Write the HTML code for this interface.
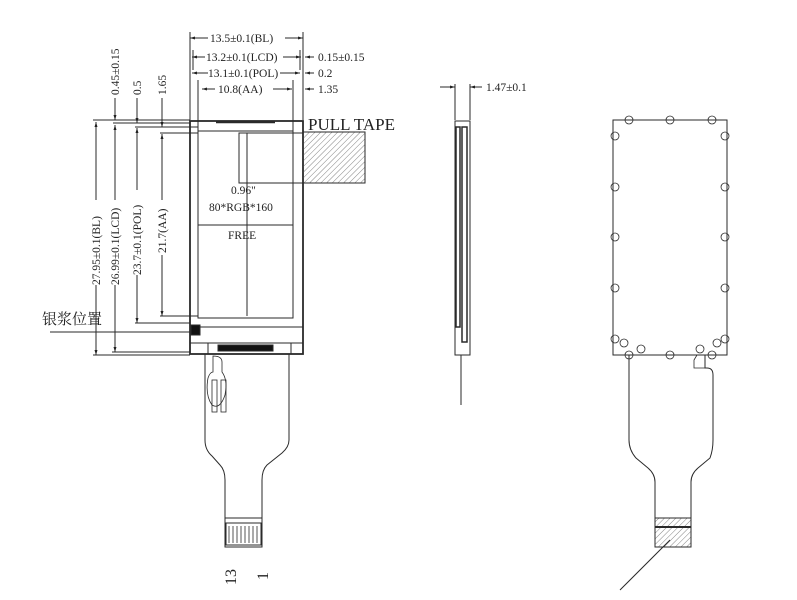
<!DOCTYPE html>
<html><head><meta charset="utf-8"><style>
body{margin:0;background:#fff}
svg{display:block}
text{font-family:"Liberation Serif","Noto Serif CJK SC",serif;fill:#222}
</style></head><body>
<svg width="797" height="600" viewBox="0 0 797 600" xmlns="http://www.w3.org/2000/svg">
<defs>
<pattern id="h" width="4" height="4" patternUnits="userSpaceOnUse" patternTransform="rotate(45)">
<line x1="0" y1="0" x2="0" y2="4" stroke="#666" stroke-width="0.8"/></pattern>
<marker id="a" viewBox="0 0 10 10" refX="10" refY="5" markerWidth="6" markerHeight="5" orient="auto-start-reverse"><path d="M0,2 L10,5 L0,8z" fill="#222"/></marker>
</defs>
<g stroke="#2a2a2a" stroke-width="1" fill="none">
<line x1="190" y1="32" x2="190" y2="120"/><line x1="303" y1="32" x2="303" y2="120"/>
<line x1="198" y1="80" x2="198" y2="131"/><line x1="293" y1="80" x2="293" y2="131"/>
<line x1="193" y1="50" x2="193" y2="70"/><line x1="300" y1="50" x2="300" y2="70"/>
<line x1="190" y1="38" x2="208" y2="38" marker-start="url(#a)"/><line x1="285" y1="38" x2="303" y2="38" marker-end="url(#a)"/>
<line x1="192" y1="57" x2="205" y2="57" marker-start="url(#a)"/><line x1="283" y1="57" x2="301" y2="57" marker-end="url(#a)"/>
<line x1="192" y1="73" x2="208" y2="73" marker-start="url(#a)"/><line x1="280" y1="73" x2="300" y2="73" marker-end="url(#a)"/>
<line x1="202" y1="89" x2="215" y2="89" marker-start="url(#a)"/><line x1="273" y1="89" x2="292" y2="89" marker-end="url(#a)"/>
<line x1="305" y1="57" x2="314" y2="57" marker-start="url(#a)"/>
<line x1="305" y1="73" x2="314" y2="73" marker-start="url(#a)"/>
<line x1="305" y1="89" x2="314" y2="89" marker-start="url(#a)"/>
<line x1="93" y1="120" x2="190" y2="120"/><line x1="113" y1="123" x2="190" y2="123"/>
<line x1="135" y1="127" x2="198" y2="127"/><line x1="160" y1="133" x2="198" y2="133"/>
<line x1="160" y1="316" x2="198" y2="316"/><line x1="135" y1="323" x2="190" y2="323"/>
<line x1="112" y1="352" x2="190" y2="352"/><line x1="93" y1="355" x2="190" y2="355"/>
<line x1="96" y1="122" x2="96" y2="200" marker-start="url(#a)"/><line x1="96" y1="285" x2="96" y2="355" marker-end="url(#a)"/>
<line x1="115" y1="125" x2="115" y2="200" marker-start="url(#a)"/><line x1="115" y1="285" x2="115" y2="352" marker-end="url(#a)"/>
<line x1="137" y1="128" x2="137" y2="190" marker-start="url(#a)"/><line x1="137" y1="275" x2="137" y2="323" marker-end="url(#a)"/>
<line x1="162" y1="134" x2="162" y2="200" marker-start="url(#a)"/><line x1="162" y1="255" x2="162" y2="316" marker-end="url(#a)"/>
<line x1="115" y1="98" x2="115" y2="120" marker-end="url(#a)"/>
<line x1="137" y1="98" x2="137" y2="123" marker-end="url(#a)"/>
<line x1="162" y1="98" x2="162" y2="127" marker-end="url(#a)"/>
<rect x="190" y="121" width="113" height="233" stroke-width="1.8"/>
<rect x="198" y="131" width="95" height="187"/>
<line x1="216" y1="122" x2="275" y2="122" stroke-width="2.5"/>
<line x1="198" y1="225" x2="293" y2="225"/>
<line x1="247" y1="133" x2="247" y2="316"/>
<rect x="239" y="133" width="64" height="50"/>
<rect x="303" y="132" width="62" height="51" fill="url(#h)"/>
<line x1="190" y1="327" x2="303" y2="327"/>
<line x1="190" y1="343" x2="303" y2="343"/>
<rect x="208" y="343" width="83" height="11"/>
<rect x="218" y="345" width="55" height="6" fill="#111"/>
<rect x="191" y="325" width="9" height="10" fill="#111"/>
<line x1="50" y1="332" x2="190" y2="332"/>
<path d="M205,354 V440 Q205,450 212,456 L220,465 Q225,470 225,480 V547 H262 V480 Q262,470 267,465 L282,453 Q289,447 289,440 V354"/>
<line x1="225" y1="518" x2="262" y2="518"/>
<rect x="226" y="523" width="35" height="22"/>
<g stroke-width="0.8"><line x1="229" y1="526" x2="229" y2="543"/><line x1="233" y1="526" x2="233" y2="543"/><line x1="237" y1="526" x2="237" y2="543"/><line x1="241" y1="526" x2="241" y2="543"/><line x1="245" y1="526" x2="245" y2="543"/><line x1="249" y1="526" x2="249" y2="543"/><line x1="253" y1="526" x2="253" y2="543"/><line x1="257" y1="526" x2="257" y2="543"/></g>
<path d="M213,356 Q222,356 222,362 V372 Q228,380 225,395 Q220,410 212,405 Q205,395 208,378 Q210,372 213,372z" stroke-width="0.8"/>
<rect x="212" y="380" width="5" height="32" stroke-width="0.8"/><rect x="221" y="380" width="5" height="32" stroke-width="0.8"/>
<line x1="440" y1="87" x2="455" y2="87" marker-end="url(#a)"/><line x1="470" y1="87" x2="482" y2="87" marker-start="url(#a)"/>
<line x1="455" y1="84" x2="455" y2="120"/><line x1="470" y1="84" x2="470" y2="120"/>
<rect x="455" y="121" width="15" height="234"/>
<rect x="456" y="127" width="4" height="200" stroke-width="1.5"/>
<rect x="462" y="127" width="5" height="215" stroke-width="1.5"/>
<line x1="461" y1="355" x2="461" y2="405"/>
<rect x="613" y="120" width="114" height="235"/>
<g stroke-width="0.8">
<circle cx="629" cy="120" r="4"/><circle cx="670" cy="120" r="4"/><circle cx="712" cy="120" r="4"/>
<circle cx="615" cy="136" r="4"/><circle cx="725" cy="136" r="4"/>
<circle cx="615" cy="187" r="4"/><circle cx="725" cy="187" r="4"/>
<circle cx="615" cy="237" r="4"/><circle cx="725" cy="237" r="4"/>
<circle cx="615" cy="288" r="4"/><circle cx="725" cy="288" r="4"/>
<circle cx="615" cy="339" r="4"/><circle cx="725" cy="339" r="4"/>
<circle cx="624" cy="343" r="4"/><circle cx="641" cy="349" r="4"/><circle cx="700" cy="349" r="4"/><circle cx="717" cy="343" r="4"/>
<circle cx="629" cy="355" r="4"/><circle cx="670" cy="355" r="4"/><circle cx="712" cy="355" r="4"/>
</g>
<path d="M629,355 V440 Q629,450 636,458 L648,468 Q655,474 655,482 V547 H691 V482 Q691,474 698,468 L710,458 Q713,450 713,440 V375 Q713,368 707,368 H705 V355"/>
<path d="M697,355 L694,360 V368 H705" stroke-width="0.8"/>
<rect x="655" y="518" width="36" height="29" fill="url(#h)"/>
<line x1="655" y1="527" x2="691" y2="527" stroke-width="2"/>
<line x1="670" y1="540" x2="620" y2="590"/>
</g>
<g font-size="11.5">
<text x="210" y="42">13.5±0.1(BL)</text>
<text x="206" y="61">13.2±0.1(LCD)</text>
<text x="208" y="77">13.1±0.1(POL)</text>
<text x="218" y="93">10.8(AA)</text>
<text x="318" y="61">0.15±0.15</text>
<text x="318" y="77">0.2</text>
<text x="318" y="93">1.35</text>
<text x="486" y="91">1.47±0.1</text>
<text x="231" y="194">0.96"</text>
<text x="209" y="211">80*RGB*160</text>
<text x="228" y="239">FREE</text>
<text transform="translate(119,95) rotate(-90)">0.45±0.15</text>
<text transform="translate(141,95) rotate(-90)">0.5</text>
<text transform="translate(166,95) rotate(-90)">1.65</text>
<text transform="translate(100,285) rotate(-90)">27.95±0.1(BL)</text>
<text transform="translate(119,285) rotate(-90)">26.99±0.1(LCD)</text>
<text transform="translate(141,275) rotate(-90)">23.7±0.1(POL)</text>
<text transform="translate(166,253) rotate(-90)">21.7(AA)</text>
</g>
<text x="308" y="130" font-size="17">PULL TAPE</text>
<text x="42" y="324" font-size="15">银浆位置</text>
<text transform="translate(236,585) rotate(-90)" font-size="16">13</text>
<text transform="translate(268,580) rotate(-90)" font-size="16">1</text>
</svg>
</body></html>
